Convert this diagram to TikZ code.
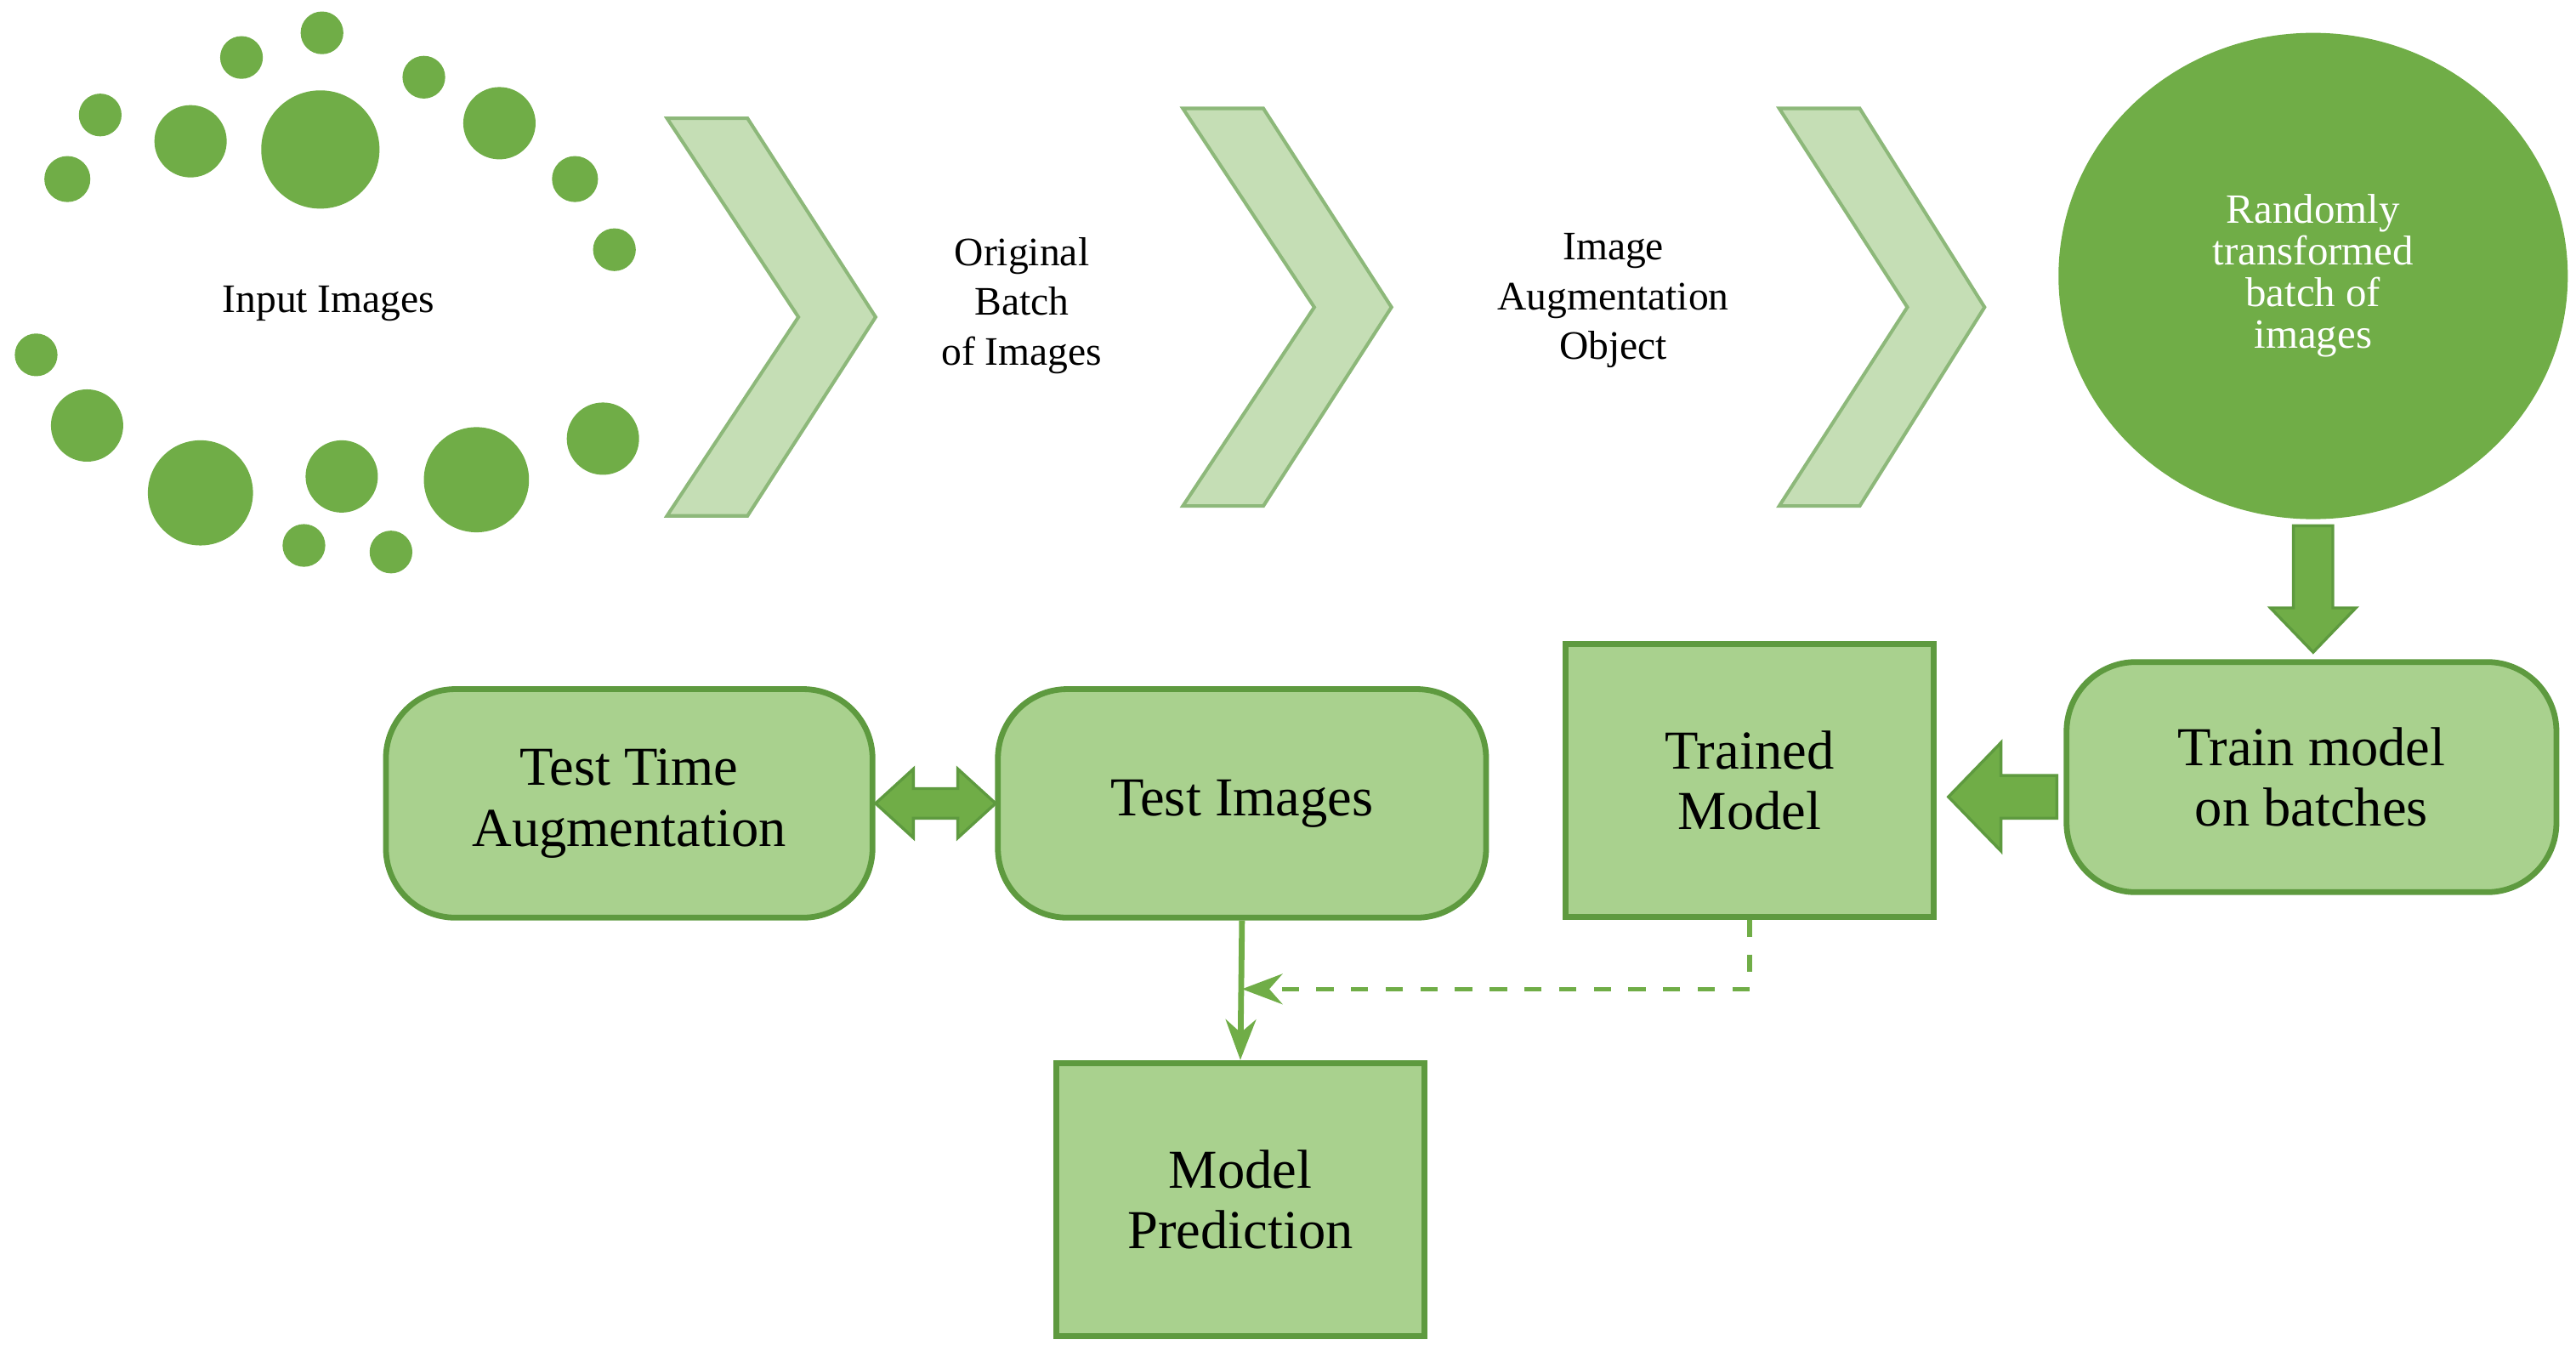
\documentclass[tikz,border=0pt]{standalone}
\usepackage{fontspec}
\setmainfont{Liberation Serif}
\usetikzlibrary{arrows.meta}
\definecolor{dg}{HTML}{70AD47}
\definecolor{lg}{HTML}{C5DEB5}
\definecolor{lgb}{HTML}{8DB87A}
\definecolor{bx}{HTML}{A9D18E}
\definecolor{bxb}{HTML}{5E9A3F}
\begin{document}
\begin{tikzpicture}[x=0.01cm,y=-0.01cm,
  dot/.style={fill=dg,draw=none},
  chev/.style={fill=lg,draw=lgb,line width=0.6pt},
  box/.style={draw=bxb,fill=bx,line width=1pt,align=center,font=\fontsize{9.5}{10.5}\selectfont,inner sep=0pt},
  txt/.style={align=center,font=\fontsize{7}{8.6}\selectfont},
  conn/.style={draw=dg,line width=1pt}]
\useasboundingbox (0,0) rectangle (1568,822);
\foreach \x/\y/\r in {196/20/13,147/35/13,258/47/13,61/70/13,116/86/22,195/91/36,304/75/22,41/109/14,350/109/14,374/152/13,22/216/13,53/259/22,122/300/32,208/290/22,290/292/32,367/267/22,185/332/13,238/336/13}
  \fill[dot] (\x,\y) circle (\r);
\node[txt] (inp) at (200,185) {Input Images};
\draw[chev] (406,72) -- (455,72) -- (533,193) -- (455,314) -- (406,314) -- (486,193) -- cycle;
\draw[chev] (720,66) -- (769,66) -- (847,187) -- (769,308) -- (720,308) -- (800,187) -- cycle;
\draw[chev] (1083,66) -- (1132,66) -- (1208,187) -- (1132,308) -- (1083,308) -- (1161,187) -- cycle;
\node[txt] (orig) at (622,186) {Original\\Batch\\of Images};
\node[txt] (aug) at (982,183) {Image\\Augmentation\\Object};
\fill[dg] (1408,168) ellipse (155 and 148);
\node[txt,text=white,font=\fontsize{7.2}{7.2}\selectfont,align=center] (rnd) at (1408,168) {Randomly\\transformed\\batch of\\images};
\node[box,rounded corners=12pt,minimum width=2.98cm,minimum height=1.4cm] (train) at (1407,473) {Train model\\on batches};
\node[box,minimum width=2.24cm,minimum height=1.66cm] (trained) at (1065,475) {Trained\\Model};
\node[box,rounded corners=12pt,minimum width=2.97cm,minimum height=1.39cm] (test) at (756,489) {Test Images};
\node[box,rounded corners=12pt,minimum width=2.96cm,minimum height=1.39cm] (tta) at (383,489) {Test Time\\Augmentation};
\node[box,minimum width=2.24cm,minimum height=1.66cm] (pred) at (755,730) {Model\\Prediction};
\fill[dg,draw=bxb,line width=0.5pt] (1396,320) -- (1420,320) -- (1420,370) -- (1434,370) -- (1408,397) -- (1382,370) -- (1396,370) -- cycle;
\fill[dg,draw=bxb,line width=0.5pt] (1252,472) -- (1218,472) -- (1218,452) -- (1186,485) -- (1218,518) -- (1218,498) -- (1252,498) -- cycle;
\fill[dg,draw=bxb,line width=0.5pt] (533,489) -- (556,468) -- (556,480) -- (583,480) -- (583,468) -- (606,489) -- (583,510) -- (583,498) -- (556,498) -- (556,510) -- cycle;
\draw[conn,-{Stealth[length=7pt]}] (test.south) -- (pred.north);
\coordinate (bend) at (1065,602);
\draw[conn,dashed,line width=0.8pt,-{Stealth[length=7pt]}] (trained.south) -- (bend) -- (756,602);
\end{tikzpicture}
\end{document}
